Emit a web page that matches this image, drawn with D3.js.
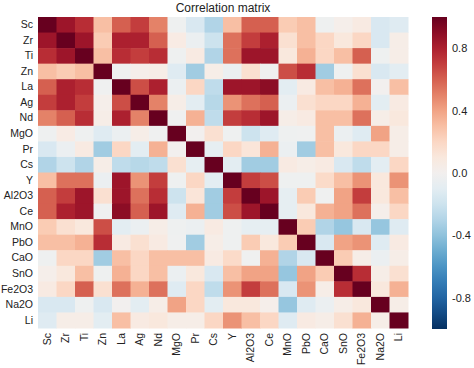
<!DOCTYPE html>
<html>
<head>
<meta charset="utf-8">
<script src="https://cdn.jsdelivr.net/npm/d3@7"></script>
<style>
  body { margin: 0; background: #fff; }
  text { font-family: "Liberation Sans", Arial, sans-serif; fill: #222; }
</style>
</head>
<body>
<div id="chart"></div>
<script>
let width = 474;
let height = 368;

// variables (same order on both axes)
const labels = ["Sc","Zr","Ti","Zn","La","Ag","Nd","MgO","Pr","Cs",
                "Y","Al2O3","Ce","MnO","PbO","CaO","SnO","Fe2O3","Na2O","Li"];

// correlation values, one row per variable
const corr = [
  [ 1.00, 0.85, 0.75, 0.30, 0.60, 0.70, 0.50,-0.03,-0.15,-0.30, 0.30, 0.60, 0.60, 0.25, 0.30,-0.03, 0.03, 0.08,-0.15,-0.12],
  [ 0.85, 1.00, 0.85, 0.25, 0.80, 0.80, 0.60, 0.07,-0.05,-0.20, 0.55, 0.70, 0.80, 0.15, 0.30, 0.20, 0.10, 0.20,-0.15, 0.05],
  [ 0.75, 0.85, 1.00, 0.30, 0.75, 0.70, 0.75,-0.03, 0.08,-0.30, 0.55, 0.85, 0.85, 0.10, 0.35, 0.20, 0.30, 0.60,-0.03, 0.05],
  [ 0.30, 0.25, 0.30, 1.00,-0.02, 0.03, 0.05,-0.12,-0.35, 0.05,-0.05, 0.15,-0.02, 0.65, 0.75,-0.35,-0.03, 0.15,-0.15,-0.10],
  [ 0.60, 0.80, 0.75,-0.02, 1.00, 0.65, 0.80,-0.05, 0.20,-0.25, 0.85, 0.85, 0.90,-0.10, 0.08, 0.30, 0.35, 0.55, 0.00, 0.30],
  [ 0.70, 0.80, 0.70, 0.03, 0.65, 1.00, 0.50, 0.05,-0.10,-0.28, 0.45, 0.55, 0.60,-0.05, 0.15, 0.20, 0.20, 0.35,-0.10, 0.08],
  [ 0.50, 0.60, 0.75, 0.05, 0.80, 0.50, 1.00,-0.02, 0.35,-0.25, 0.70, 0.75, 0.85, 0.05, 0.08, 0.30, 0.30, 0.55, 0.05, 0.10],
  [-0.03, 0.07,-0.03,-0.12,-0.05, 0.05,-0.02, 1.00, 0.00, 0.15,-0.03,-0.20,-0.12,-0.03,-0.02, 0.30,-0.05,-0.12, 0.40, 0.05],
  [-0.15,-0.05, 0.08,-0.35, 0.20,-0.10, 0.35, 0.00, 1.00,-0.08, 0.20, 0.12, 0.35,-0.05,-0.35, 0.30, 0.10, 0.20, 0.20, 0.05],
  [-0.30,-0.20,-0.30, 0.05,-0.25,-0.28,-0.25, 0.15,-0.08, 1.00,-0.10,-0.35,-0.35, 0.08, 0.05, 0.08,-0.15,-0.25,-0.10, 0.20],
  [ 0.30, 0.55, 0.55,-0.05, 0.85, 0.45, 0.70,-0.03, 0.20,-0.10, 1.00, 0.70, 0.65,-0.03,-0.03, 0.18, 0.30, 0.45, 0.10, 0.45],
  [ 0.60, 0.70, 0.85, 0.15, 0.85, 0.55, 0.75,-0.20, 0.12,-0.35, 0.70, 1.00, 0.85,-0.08, 0.25,-0.02, 0.40, 0.70, 0.10, 0.30],
  [ 0.60, 0.80, 0.85,-0.02, 0.90, 0.60, 0.85,-0.12, 0.35,-0.35, 0.65, 0.85, 1.00,-0.08, 0.10, 0.35, 0.40, 0.55, 0.03, 0.20],
  [ 0.25, 0.15, 0.10, 0.65,-0.10,-0.05, 0.05,-0.03,-0.05, 0.08,-0.03,-0.08,-0.08, 1.00, 0.25,-0.30,-0.38,-0.15,-0.38,-0.12],
  [ 0.30, 0.30, 0.35, 0.75, 0.08, 0.15, 0.08,-0.02,-0.35, 0.05,-0.03, 0.25, 0.10, 0.25, 1.00,-0.15, 0.40, 0.45,-0.12, 0.08],
  [-0.03, 0.20, 0.20,-0.35, 0.30, 0.20, 0.30, 0.30, 0.30, 0.08, 0.18,-0.02, 0.35,-0.30,-0.15, 1.00, 0.25, 0.05,-0.05, 0.05],
  [ 0.03, 0.10, 0.30,-0.03, 0.35, 0.20, 0.30,-0.05, 0.10,-0.15, 0.30, 0.40, 0.40,-0.38, 0.40, 0.25, 1.00, 0.75, 0.05, 0.15],
  [ 0.08, 0.20, 0.60, 0.15, 0.55, 0.35, 0.55,-0.12, 0.20,-0.25, 0.45, 0.70, 0.55,-0.15, 0.45, 0.05, 0.75, 1.00, 0.10, 0.35],
  [-0.15,-0.15,-0.03,-0.15, 0.00,-0.10, 0.05, 0.40, 0.20,-0.10, 0.10, 0.10, 0.03,-0.38,-0.12,-0.05, 0.05, 0.10, 1.00, 0.05],
  [-0.12, 0.05, 0.05,-0.10, 0.30, 0.08, 0.10, 0.05, 0.05, 0.20, 0.45, 0.30, 0.20,-0.12, 0.08, 0.05, 0.15, 0.35, 0.05, 1.00]
];

const cbTicks = [-0.8, -0.4, 0.0, 0.4, 0.8];

let svg = d3.select("#chart")
            .append("svg")
            .attr("width", width)
            .attr("height", height);

let x = d3.scaleBand().domain(labels).range([38, 408]);
let y = d3.scaleBand().domain(labels).range([17, 328]);
// RdBu reversed: +1 dark red, -1 dark blue
let color = d3.scaleSequential(d3.interpolateRdBu).domain([1, -1]);

let cells = [];
corr.forEach((row, i) => row.forEach((v, j) => cells.push({r: labels[i], c: labels[j], v: v})));

svg.append("g")
  .selectAll("rect")
  .data(cells)
  .enter()
  .append("rect")
  .attr("x", d => x(d.c))
  .attr("y", d => y(d.r))
  .attr("width", x.bandwidth() + 0.5)
  .attr("height", y.bandwidth() + 0.5)
  .attr("fill", d => color(d.v));

// row labels
svg.append("g")
  .attr("transform", "translate(38,0)")
  .call(d3.axisLeft(y).tickSize(0).tickPadding(5))
  .call(g => g.select(".domain").remove())
  .selectAll("text")
  .style("font-size", "10.5px")
  .style("font-family", "Liberation Sans, Arial, sans-serif");

// column labels, rotated
svg.append("g")
  .attr("transform", "translate(0,328)")
  .call(d3.axisBottom(x).tickSize(0).tickPadding(5))
  .call(g => g.select(".domain").remove())
  .selectAll("text")
  .style("font-size", "10.5px")
  .style("font-family", "Liberation Sans, Arial, sans-serif")
  .attr("text-anchor", "end")
  .attr("dy", "0.35em")
  .attr("transform", "rotate(-90)")
  .attr("x", -5)
  .attr("y", 0);

svg.append("text")
  .attr("x", 223)
  .attr("y", 12)
  .attr("text-anchor", "middle")
  .style("font-size", "12px")
  .text("Correlation matrix");

// colorbar
let cb = d3.scaleLinear().domain([1, -1]).range([17, 329]);
let grad = svg.append("defs").append("linearGradient")
  .attr("id", "cbgrad")
  .attr("x1", 0).attr("y1", 0).attr("x2", 0).attr("y2", 1);
d3.range(0, 1.0001, 0.05).forEach(t => {
  grad.append("stop").attr("offset", t).attr("stop-color", color(1 - 2 * t));
});
svg.append("rect")
  .attr("x", 432)
  .attr("y", cb(1))
  .attr("width", 15)
  .attr("height", cb(-1) - cb(1))
  .attr("fill", "url(#cbgrad)");

svg.append("g")
  .attr("transform", "translate(447,0)")
  .call(d3.axisRight(cb).tickValues(cbTicks).tickSize(0).tickPadding(5)
          .tickFormat(d => d3.format(".1f")(d).replace("−", "-")))
  .call(g => g.select(".domain").remove())
  .selectAll("text")
  .style("font-size", "11px")
  .style("font-family", "Liberation Sans, Arial, sans-serif");
</script>
</body>
</html>
